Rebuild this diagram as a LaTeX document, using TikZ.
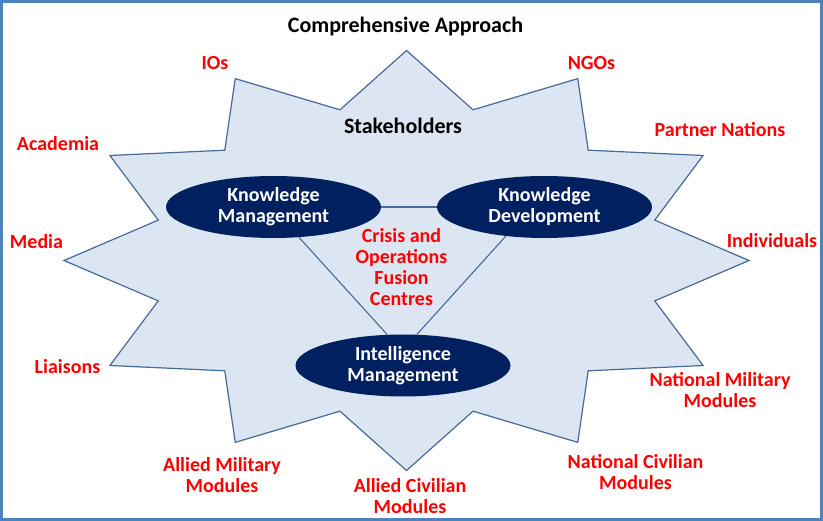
\documentclass[tikz,border=0pt]{standalone}
\usepackage{fontspec}
\setmainfont{Carlito}
\usetikzlibrary{shapes.geometric}
\definecolor{framec}{RGB}{79,129,189}
\definecolor{starfill}{RGB}{220,230,242}
\definecolor{starline}{RGB}{72,106,150}
\definecolor{navy}{RGB}{0,32,96}
\tikzset{
  redlbl/.style={text=red, font=\bfseries\fontsize{20}{21}\selectfont, align=center, inner sep=0pt},
  blklbl/.style={text=black, font=\bfseries\fontsize{22}{23}\selectfont, align=center, inner sep=0pt},
  oval/.style={ellipse, fill=navy, draw=none, text=white, font=\bfseries\fontsize{20}{21}\selectfont,
    align=center, inner sep=0pt, minimum width=215pt, minimum height=62pt},
  link/.style={draw=starline, line width=1.1pt},
}
\begin{document}
\begin{tikzpicture}[x=1pt,y=-1pt]
\useasboundingbox (0,0) rectangle (823,521);
\fill[white] (0,0) rectangle (823,521);
\draw[framec, line width=2.6pt] (1.3,1.3) rectangle (821.2,519.3);
% star
\def\cx{406.5}\def\cy{260.5}
\draw[fill=starfill, draw=starline, line width=1.2pt]
  \foreach \k in {0,...,11} {
    \ifnum\k=0 ({\cx+342.5*cos(90)},{\cy-210*sin(90)}) \else -- ({\cx+342.5*cos(90+30*\k)},{\cy-210*sin(90+30*\k)}) \fi
    -- ({\cx+257*cos(105+30*\k)},{\cy-156*sin(105+30*\k)})
  } -- cycle;
% ellipses
\node[oval] (KM) at (273.5,207) {Knowledge\\Management};
\node[oval] (KD) at (544.5,207) {Knowledge\\Development};
\node[oval] (IM) at (403,365.5) {Intelligence\\Management};
\draw[link] (KM.east) -- (KD.west);
\draw[link] (KM.-50) -- (IM.117);
\draw[link] (KD.-143) -- (IM.66);
% labels
\node[blklbl] (ca) at (405.5,27) {Comprehensive Approach};
\node[blklbl] (st) at (403,126) {Stakeholders};
\node[redlbl] (cf) at (401.5,267.5) {Crisis and\\Operations\\Fusion\\Centres};
\node[redlbl] (ios) at (215,63) {IOs};
\node[redlbl] (ngo) at (591.5,63) {NGOs};
\node[redlbl] (aca) at (58,144) {Academia};
\node[redlbl] (pn) at (720,130) {Partner Nations};
\node[redlbl] (med) at (36.5,242) {Media};
\node[redlbl] (ind) at (772,241) {Individuals};
\node[redlbl] (lia) at (67.5,367) {Liaisons};
\node[redlbl] (nmm) at (720,390.5) {National Military\\Modules};
\node[redlbl] (amm) at (222,475) {Allied Military\\Modules};
\node[redlbl] (ncm) at (635.5,472.5) {National Civilian\\Modules};
\node[redlbl] (acm) at (410,496.5) {Allied Civilian\\Modules};
\end{tikzpicture}
\end{document}
